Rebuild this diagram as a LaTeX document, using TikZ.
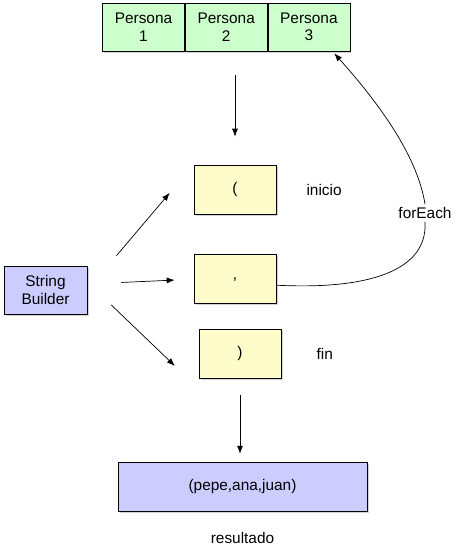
\documentclass[tikz,border=0pt]{standalone}
\usepackage{fontspec}
\setmainfont{Liberation Sans}
\usetikzlibrary{arrows.meta,positioning,shadows}

\begin{document}
\begin{tikzpicture}[
  x=1pt, y=1pt,
  font=\fontsize{15.4}{17.5}\selectfont,
  box/.style={draw, line width=0.7pt, align=center, minimum width=82pt, minimum height=48pt,
    drop shadow={shadow xshift=1.5pt, shadow yshift=-1.5pt, opacity=0.35}},
  persona/.style={box, fill=green!20},
  part/.style={box, fill=yellow!20, minimum height=49pt},
  builder/.style={box, fill=blue!20},
  arrow/.style={-{Latex[length=8pt,width=6pt]}, line width=0.7pt},
  note/.style={inner sep=3pt}
]
\useasboundingbox (0,0) rectangle (458,-554);

\node[persona] (p1) at (143.5,-27) {Persona\\1};
\node[persona, right=0pt of p1] (p2) {Persona\\2};
\node[persona, right=0pt of p2] (p3) {Persona\\3};

\node[part] (open) at (235,-189.5) {(};
\node[part, below=40pt of open] (comma) {,};
\node[part, below=25pt of comma, xshift=5pt] (close) {)};
\node[builder, minimum width=249pt, minimum height=49pt, below=83pt of close, xshift=2.5pt] (result) {(pepe,ana,juan)};

\node[builder, minimum width=83pt] (sb) at (45.5,-290) {String\\Builder};

\node[note, right=27pt of open] (inicio) {inicio};
\node[note, right=32pt of close] (fin) {fin};
\node[note] (forEach) at (425,-213) {forEach};
\node[note, below=18pt of result] (resultado) {resultado};

\draw[arrow, shorten <=24pt, shorten >=28pt] (p2.south -| open.north) -- (open.north);
\draw[arrow, shorten <=45pt, shorten >=37pt] (sb.east) -- (open.north west);
\draw[arrow, shorten <=34pt, shorten >=19pt] ([yshift=6pt]sb.east) -- (comma.west);
\draw[arrow, shorten <=33pt, shorten >=33pt] ([yshift=8pt]sb.east) -- ([yshift=-10pt]close.south west);
\draw[arrow, shorten <=16pt, shorten >=8pt] (close.south) -- (close.south |- result.north);

\draw[line width=0.7pt] ([yshift=-6pt]comma.east) .. controls (370,-290) and (428,-270) .. (forEach.south);
\draw[arrow] (forEach.north) .. controls (418,-160) and (385,-110) .. ([xshift=-16pt,yshift=-2pt]p3.south east);

\end{tikzpicture}
\end{document}
